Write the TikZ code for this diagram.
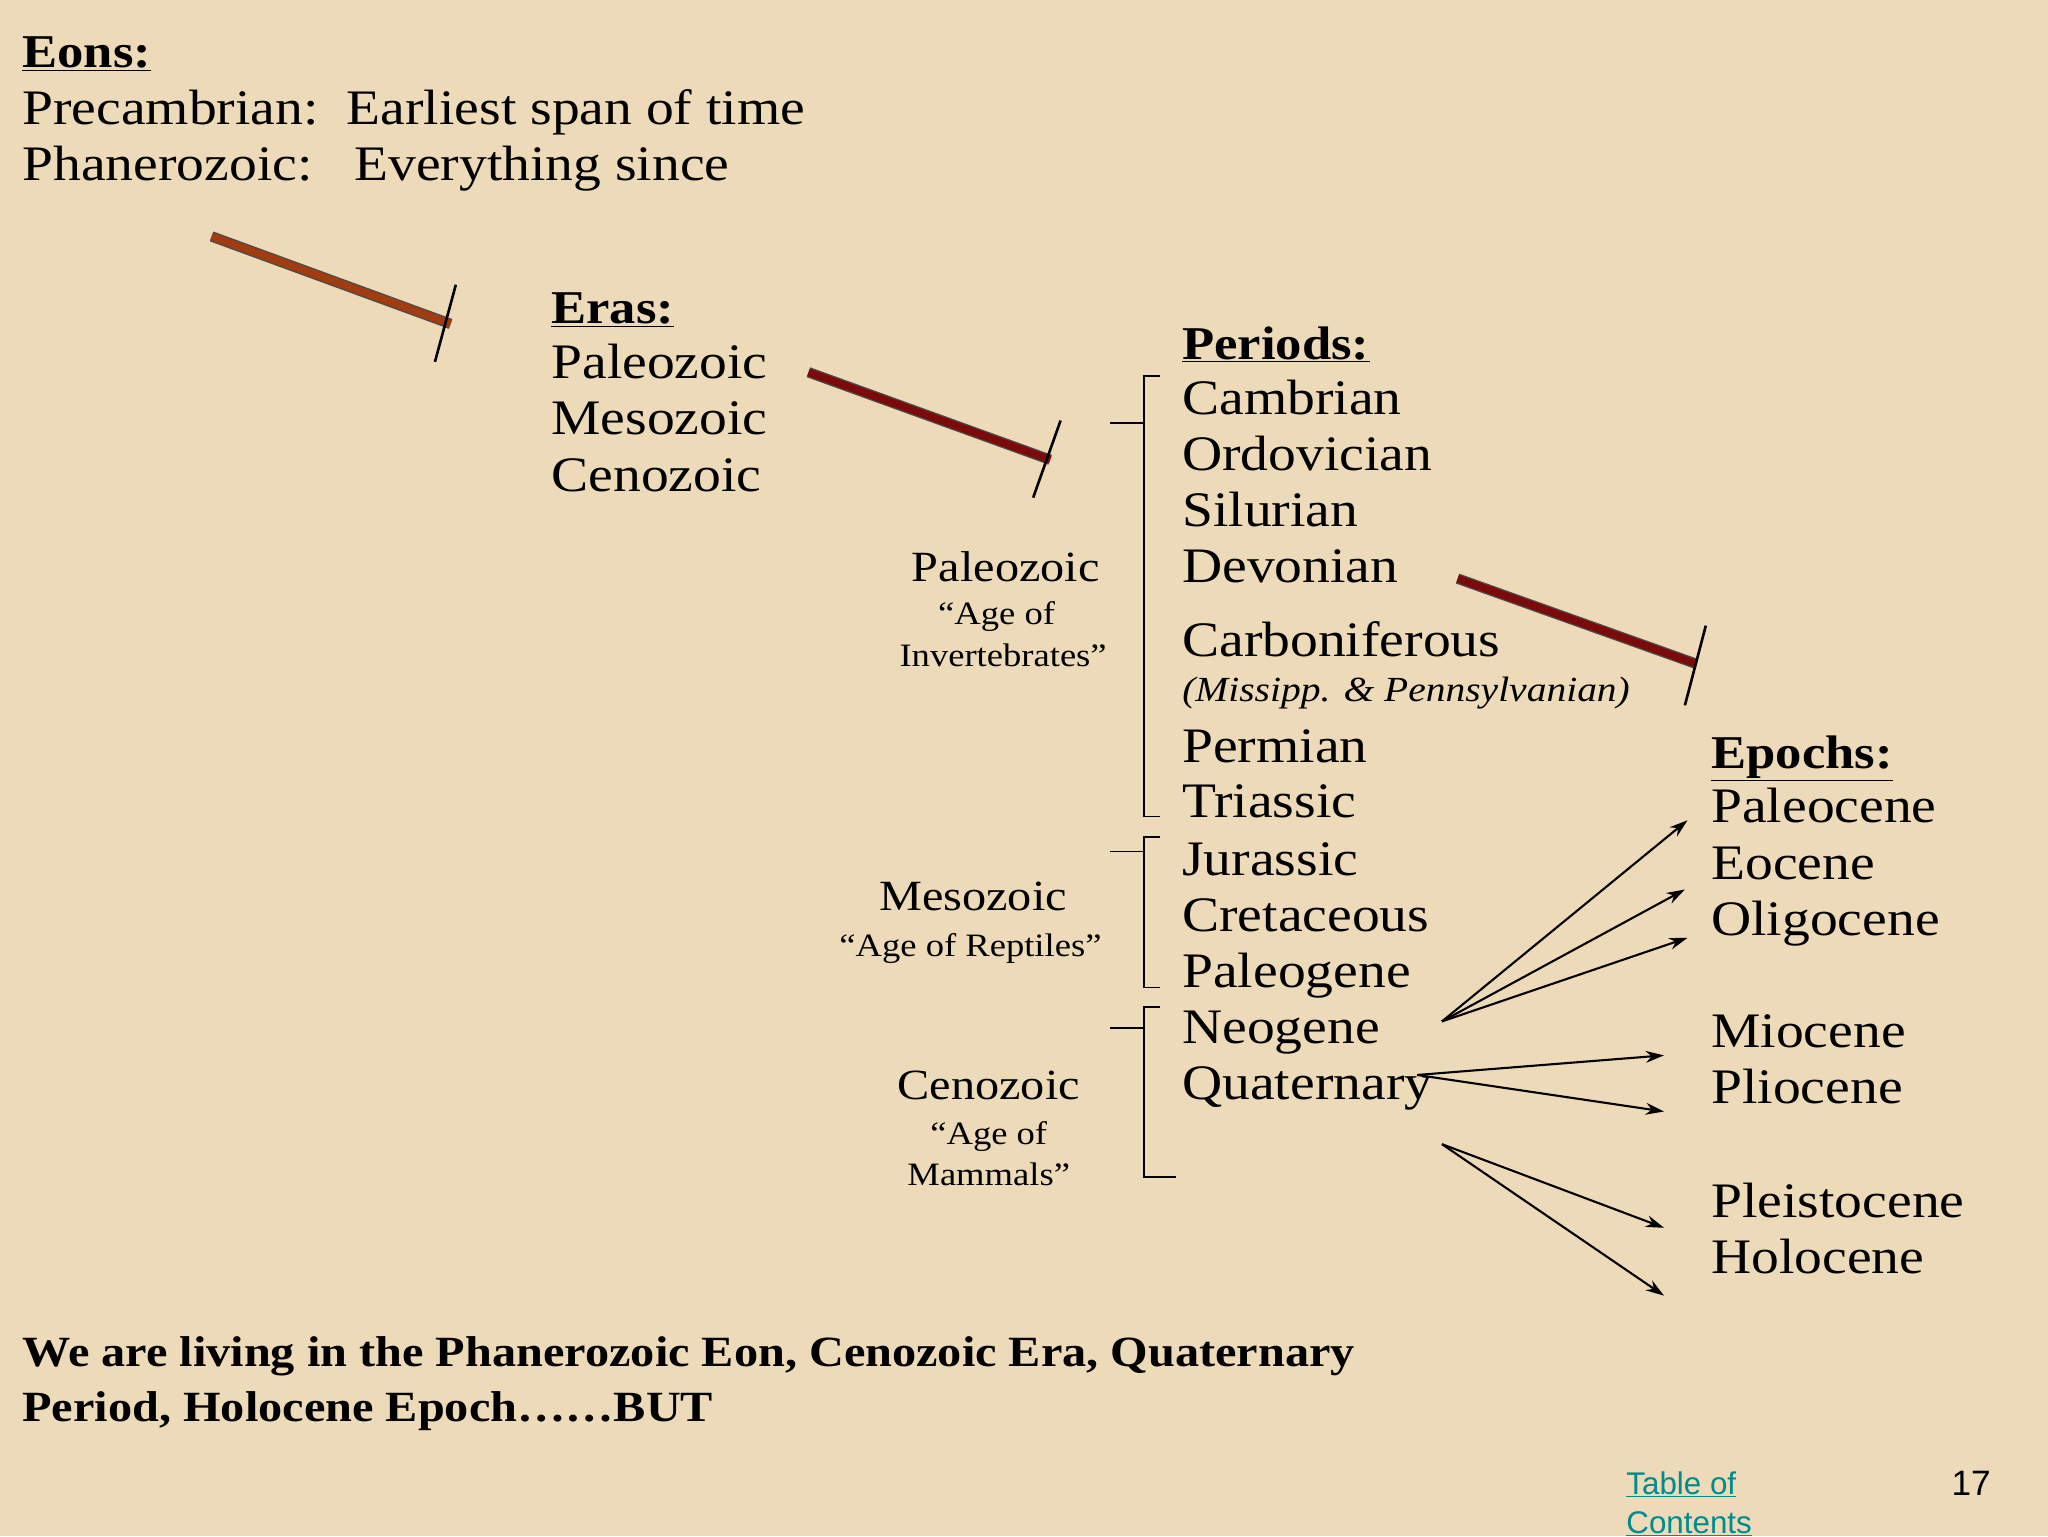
\documentclass[tikz,border=0pt]{standalone}
\usepackage{fontspec}
\setmainfont{Liberation Serif}[FakeStretch=1.12]
\setsansfont{Liberation Sans}
\usetikzlibrary{arrows.meta}
\definecolor{parch}{RGB}{236,218,184}
\definecolor{brn}{RGB}{160,60,15}
\definecolor{dred}{RGB}{125,10,10}
\definecolor{teal2}{RGB}{0,140,140}
\tikzset{
 t/.style={anchor=base west,inner sep=0pt,font=\fontsize{38}{43}\selectfont},
 hd/.style={t,font=\fontsize{36}{43}\selectfont\bfseries},
 lab/.style={anchor=base,inner sep=0pt,font=\fontsize{33}{40}\selectfont},
 sub/.style={anchor=base,inner sep=0pt,font=\fontsize{25}{30}\selectfont},
 bt/.style={anchor=base west,inner sep=0pt,font=\fontsize{33}{42}\selectfont\bfseries},
 shaft/.style={line width=6pt,preaction={draw=black!70,line width=8pt}},
 bar/.style={line width=2pt},
 br/.style={line width=1.2pt},
 ar/.style={line width=1.6pt,-{Stealth[length=14pt,width=9pt]}}
}
\begin{document}
\begin{tikzpicture}[x=1pt,y=-1pt]
\fill[parch] (0,0) rectangle (1568,1176);
\useasboundingbox (0,0) rectangle (1568,1176);
% Eons
\node[hd] (eons) at (17,52) {\underline{Eons:}};
\node[t] (pre) at (17,95) {Precambrian:\ \ Earliest span of time};
\node[t] (pha) at (17,138) {Phanerozoic:\ \ \ Everything since};
% arrow 1
\coordinate (a1s) at (162,181); \coordinate (a1e) at (345,248);
\coordinate (b1a) at (349,218); \coordinate (b1b) at (333,277);
\draw[shaft,brn] (a1s) -- (a1e);
\draw[bar] (b1a) -- (b1b);
% Eras
\node[hd] (eras) at (422,248) {\underline{Eras:}};
\node[t] (e1) at (422,290) {Paleozoic};
\node[t] (e2) at (422,333) {Mesozoic};
\node[t] (e3) at (422,376) {Cenozoic};
% arrow 2
\coordinate (a2s) at (619,285); \coordinate (a2e) at (804,352);
\coordinate (b2a) at (812,322); \coordinate (b2b) at (791,381);
\draw[shaft,dred] (a2s) -- (a2e);
\draw[bar] (b2a) -- (b2b);
% Periods
\node[hd] (per) at (905,275) {\underline{Periods:}};
\node[t] (p1) at (905,317) {Cambrian};
\node[t] (p2) at (905,360) {Ordovician};
\node[t] (p3) at (905,403) {Silurian};
\node[t] (p4) at (905,446) {Devonian};
\node[t] (p5) at (905,503) {Carboniferous};
\node[anchor=base west,inner sep=0pt,font=\fontsize{27}{32}\selectfont\itshape] (p5b) at (905,537) {(Missipp. \& Pennsylvanian)};
\node[t] (p6) at (905,584) {Permian};
\node[t] (p7) at (905,626) {Triassic};
\node[t] (p8) at (905,670) {Jurassic};
\node[t] (p9) at (905,713) {Cretaceous};
\node[t] (p10) at (905,756) {Paleogene};
\node[t] (p11) at (905,799) {Neogene};
\node[t] (p12) at (905,842) {Quaternary};
% brackets
\draw[br] (888,288) -- (876,288) -- (876,625) -- (888,625);
\draw[br] (850,324) -- (876,324);
\draw[br] (888,641) -- (876,641) -- (876,756) -- (888,756);
\draw[br] (850,652) -- (876,652);
\draw[br] (888,771) -- (876,771) -- (876,901) -- (900,901);
\draw[br] (850,787) -- (876,787);
% era labels
\node[lab] (l1) at (770,445) {Paleozoic};
\node[sub] (l1a) at (763,478) {``Age of};
\node[sub] (l1b) at (768,510) {Invertebrates''};
\node[lab] (l2) at (745,697) {Mesozoic};
\node[sub] (l2a) at (743,732) {``Age of Reptiles''};
\node[lab] (l3) at (757,842) {Cenozoic};
\node[sub] (l3a) at (757,876) {``Age of};
\node[sub] (l3b) at (757,908) {Mammals''};
% arrow 3
\coordinate (a3s) at (1116,443); \coordinate (a3e) at (1298,508);
\coordinate (b3a) at (1306,479); \coordinate (b3b) at (1290,540);
\draw[shaft,dred] (a3s) -- (a3e);
\draw[bar] (b3a) -- (b3b);
% Epochs
\node[hd] (ep) at (1310,588) {\underline{Epochs:}};
\node[t] (x1) at (1310,630) {Paleocene};
\node[t] (x2) at (1310,673) {Eocene};
\node[t] (x3) at (1310,716) {Oligocene};
\node[t] (x4) at (1310,802) {Miocene};
\node[t] (x5) at (1310,845) {Pliocene};
\node[t] (x6) at (1310,932) {Pleistocene};
\node[t] (x7) at (1310,975) {Holocene};
% thin arrows
\coordinate (s1) at (1104,782);
\coordinate (s2) at (1085,823);
\coordinate (s3) at (1104,876);
\draw[ar] (s1) -- (1292,628);
\draw[ar] (s1) -- (1290,681);
\draw[ar] (s1) -- (1292,718);
\draw[ar] (s2) -- (1274,808);
\draw[ar] (s2) -- (1274,851);
\draw[ar] (s3) -- (1274,940);
\draw[ar] (s3) -- (1274,992);
% bottom
\node[bt] (bot1) at (17,1046) {We are living in the Phanerozoic Eon, Cenozoic Era, Quaternary};
\node[bt] (bot2) at (17,1088) {Period, Holocene Epoch\dots\dots BUT};
\node[anchor=base west,inner sep=0pt,font=\sffamily\fontsize{24}{30}\selectfont,text=teal2] (toc1) at (1245,1144) {\underline{Table of}};
\node[anchor=base west,inner sep=0pt,font=\sffamily\fontsize{24}{30}\selectfont,text=teal2] (toc2) at (1245,1174) {\underline{Contents}};
\node[anchor=base west,inner sep=0pt,font=\sffamily\fontsize{27}{30}\selectfont] (pg) at (1494,1145) {17};
\end{tikzpicture}
\end{document}
